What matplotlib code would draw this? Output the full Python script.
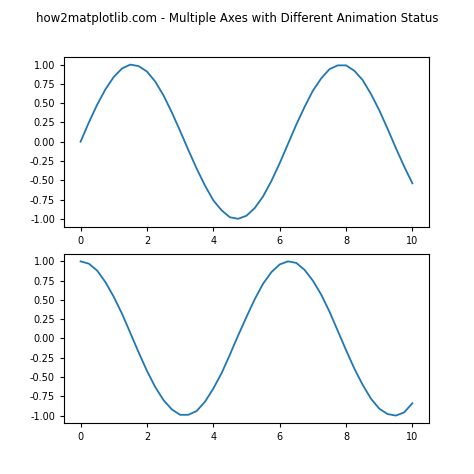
import matplotlib
matplotlib.use("Agg")
import matplotlib.pyplot as plt

x = [i * 0.25 for i in range(41)]
sin_vals = [0, .25, .48, .68, .84, .95, 1.00, .98, .91, .78, .60, .38, .14, -.11, -.35, -.57, -.76, -.89, -.98, -1.00,
            -.96, -.86, -.71, -.51, -.28, -.03, .22, .45, .66, .82, .94, .99, .99, .92, .80, .62, .41, .17, -.08, -.32, -.54]
cos_vals = [1, .97, .88, .73, .54, .32, .07, -.18, -.42, -.63, -.80, -.92, -.99, -.99, -.94, -.82, -.65, -.45, -.21, .04,
            .28, .51, .71, .86, .96, 1.00, .98, .89, .75, .57, .35, .10, -.15, -.39, -.60, -.78, -.91, -.98, -1.00, -.96, -.84]
title = "how2matplotlib.com - Multiple Axes with Different Animation Status"

fig, axes = plt.subplots(2, 1, figsize=(4.74, 4.74), dpi=100)
fig.subplots_adjust(left=0.135, right=0.905, top=0.88, bottom=0.107, hspace=0.16)
for ax, y in zip(axes, [sin_vals, cos_vals]):
    ax.plot(x, y, color="#1f77b4", lw=1.3)
    ax.set_yticks([-1, -0.75, -0.5, -0.25, 0, 0.25, 0.5, 0.75, 1])
    ax.set_yticklabels([f"{v:.2f}" for v in [-1, -0.75, -0.5, -0.25, 0, 0.25, 0.5, 0.75, 1]])
    ax.set_xticks([0, 2, 4, 6, 8, 10])
    ax.tick_params(labelsize=7, length=3)
fig.suptitle(title, fontsize=8.5, y=0.975)
fig.savefig("out.png", dpi=100)
